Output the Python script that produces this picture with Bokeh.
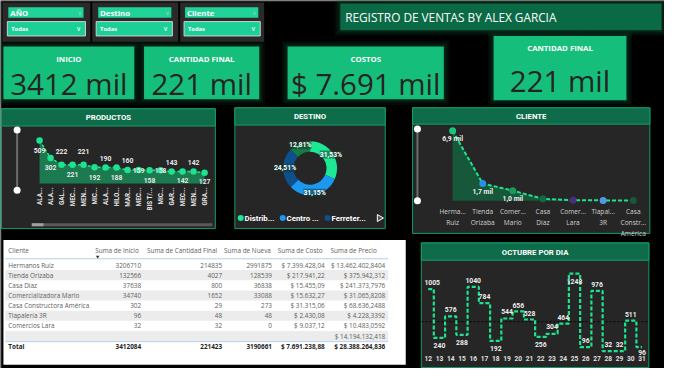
import numpy as np
from math import pi
from bokeh.plotting import figure
from bokeh.models import Range1d
from bokeh.core.properties import value
from bokeh.embed import file_html
from bokeh.resources import INLINE

# ---------------- data ----------------
filter_names = ["AÑO", "Destino", "Cliente"]
filter_choice = "Todas"
report_title = "REGISTRO DE VENTAS BY ALEX GARCIA"
kpi_labels = ["INICIO", "CANTIDAD FINAL", "COSTOS", "CANTIDAD FINAL"]
kpi_values = ["3412 mil", "221 mil", "$ 7.691 mil", "221 mil"]

prod_labels = ["ALA...", "ALA...", "GAL...", "MEC...", "MEN...", "MIC...", "ALA...", "HILO...",
               "MAR...", "MEC...", "BIS T/...", "MIC...", "GAR...", "MEC...", "MEN...", "GRA..."]
prod_values = [509, 302, 222, 221, 221, 192, 190, 188, 160, 159, 158, 158, 143, 142, 142, 127]

dest_labels = ["Distrib...", "Centro ...", "Ferreter...", "Otros"]
dest_pct = [31.53, 31.15, 24.51, 12.81]

cli_labels = ["Herma...\nRuiz", "Tienda\nOrizaba", "Comer...\nMario", "Casa\nDíaz",
              "Comer...\nLara", "Tlapal...\n3R", "Casa\nConstr...\nAmérica"]
cli_values = [6.9, 1.7, 1.0, 0.19, 0.05, 0.04, 0.02]          # miles
cli_value_text = ["6,9 mil", "1,7 mil", "1,0 mil", "", "", "", ""]

oct_days = list(range(12, 32))
oct_values = [1005, 240, 576, 288, 1040, 784, 192, 544, 656, 528,
              256, 304, 464, 1248, 96, 976, 32, 32, 511, 96]

tbl_header = ["Cliente", "Suma de Inicio", "Suma de Cantidad Final", "Suma de Nueva",
              "Suma de Costo", "Suma de Precio"]
tbl_cliente = ["Hermanos Ruiz", "Tienda Orizaba", "Casa Díaz", "Comercializadora Mario",
               "Casa Constructora América", "Tlapalería 3R", "Comercios Lara", ""]
tbl_inicio = [3206710, 132566, 37638, 34740, 302, 96, 32, None]
tbl_final = [214835, 4027, 800, 1652, 29, 48, 32, None]
tbl_nueva = [2991875, 128539, 36838, 33088, 273, 48, 0, None]
tbl_costo = [7399428.04, 217941.22, 15455.09, 15632.27, 31315.06, 2430.08, 9037.12, None]
tbl_precio = [13462402.8404, 375942.312, 241373.7976, 31065.8208, 68636.2488, 4228.3392,
              10483.0592, 14194132.418]
tbl_total = ["Total", 3412084, 221423, 3190661, 7691238.88, 28388264.836]

# ---------------- styles ----------------
BG = "#000000"
PANEL = "#262626"
HEAD = "#0e6c4b"
EDGE = "#159c66"
MINT = "#1fd399"
CARD = "#16be7b"
LINE = "#1de38e"
F = "Open Sans"
FB = "Roboto"

p = figure(width=664, height=368, x_range=Range1d(0, 680), y_range=Range1d(384, 0),
           output_backend="svg", toolbar_location=None, min_border=0,
           x_axis_location=None, y_axis_location=None)
p.grid.visible = False
p.outline_line_color = None
p.background_fill_color = BG
p.border_fill_color = BG


def rect(l, r, t, b, fill, line=None, lw=1, alpha=1.0, lalpha=1.0):
    p.quad(left=[l], right=[r], top=[t], bottom=[b], fill_color=fill, fill_alpha=alpha,
           line_color=line, line_width=lw, line_alpha=lalpha)


def txt(x, y, s, size, color="white", bold=False, align="left", baseline="middle",
        font=F, angle=0.0, g=None):
    g = g or p
    g.text(x=[x], y=[y], text=[s], text_font=value(font), text_font_size=f"{size}px",
           text_font_style="bold" if bold else "normal", text_color=color,
           text_align=align, text_baseline=baseline, angle=angle)


def glow(l, r, t, b):
    for d, a in ((6, 0.12), (4, 0.16), (2, 0.22)):
        rect(l - d, r + d, t - d, b + d, "#0e5233", alpha=a)


# dotted outer edges
p.line(x=[0.5, 0.5], y=[0, 384], line_color="#8a8a8a", line_dash="1 1", line_width=1)
p.line(x=[0, 680], y=[0.5, 0.5], line_color="#8a8a8a", line_dash="1 1", line_width=1)

# ---------------- filters ----------------
fpanel = [(2, 92), (94, 182), (184, 270)]
fhead = [(8, 85), (100, 175), (189, 264)]
fdrop = [(7, 87), (98, 176), (188, 266)]
for name, (a, b), (ha, hb), (da, db) in zip(filter_names, fpanel, fhead, fdrop):
    rect(a, b, 2, 43, "#2a2a2a")
    rect(ha, hb, 7, 18, MINT)
    txt(ha + 2, 12.8, name, 7.8, bold=True)
    txt(hb - 4, 12, "∨", 6, color="#8fdcc0", align="center", font="DejaVu Sans")
    rect(da, db, 22, 37, "#1ccf96", line="#d0d0d0", lw=1)
    txt(da + 4, 29.8, filter_choice, 5.8, bold=True)
    txt(db - 7, 29.3, "∨", 7, color="white", align="center", font="DejaVu Sans")

# ---------------- title ----------------
glow(348, 677, 3, 31)
rect(348, 677, 3, 31, "#0b6a46")
txt(353, 17.5, report_title, 11.8, color="white")

# ---------------- KPI cards ----------------
cards = [(3, 137, 48, 103), (147, 265, 48, 103), (294, 454, 48, 103), (505, 641, 37, 104)]
val_y = [87, 87, 87, 83]
for (l, r, t, b), lab, val, vy in zip(cards, kpi_labels, kpi_values, val_y):
    glow(l, r, t, b)
    rect(l, r, t, b, CARD)
    txt((l + r) / 2, t + 13, lab, 7.8, bold=True, align="center")
    txt((l + r) / 2, vy, val, 29.5, color="#252423", align="center")


# ---------------- panels ----------------
def panel(l, r, t, b, hb, title):
    rect(l, r, t, b, PANEL, line=EDGE, lw=1)
    rect(l, r, t, hb, HEAD, line=EDGE, lw=1)
    txt((l + r) / 2, (t + hb) / 2 + 0.5, title, 7.8, bold=True, align="center", font=FB)


def vslider(x, t, b):
    p.line(x=[x, x], y=[t, b], line_color="#6d6d6d", line_width=2)
    p.scatter(x=[x, x], y=[t, b], size=7, fill_color="white", line_color=None)


# PRODUCTOS
panel(1, 220, 113, 238, 131, "PRODUCTOS")
vslider(17, 135, 198)
rect(32, 217, 232.5, 235.5, "#5a5a5a")
rect(32, 44, 232.5, 235.5, "#a0a0a0")

n = len(prod_values)
pidx = list(range(n))
sp = p.subplot(x_source=Range1d(0, n - 1), y_source=Range1d(0, max(prod_values)),
               x_target=Range1d(40, 209), y_target=Range1d(191, 146))
sp.varea(x=pidx, y1=[0] * n, y2=prod_values, fill_color="#1c7a50")
sp.line(pidx, prod_values, line_color=LINE, line_width=1.5, line_dash="3 2")
sp.scatter(pidx, prod_values, size=6.5, fill_color=LINE, line_color=None)
prod_label_dy = [10, 10, -13, 10, -13, 10, -9, 10, -9, 0, 10, 0, -9, 9, -9, 9]
sp.text(x=pidx, y=prod_values, text=[str(v) for v in prod_values], y_offset=prod_label_dy,
        text_font=value(FB), text_font_size="6.8px", text_font_style="bold",
        text_color="#e8e8e8", text_align="center", text_baseline="middle")
sp.text(x=pidx, y=[0] * n, text=prod_labels, y_offset=4, angle=pi / 2,
        text_font=value(FB), text_font_size="6.3px", text_font_style="bold",
        text_color="#e8e8e8", text_align="right", text_baseline="middle")

# DESTINO
panel(240, 394, 112, 238, 130, "DESTINO")
cx, cy = 317, 175
dcol = ["#1de894", "#1b98f0", "#0f4f8c", "#147c46"]
frac = np.array(dest_pct) / sum(dest_pct)
cum = np.concatenate([[0.0], np.cumsum(frac)])
start = pi / 2 - 2 * pi * cum[1:]
end = pi / 2 - 2 * pi * cum[:-1]
p.annular_wedge(x=cx, y=cy, inner_radius=16.5, outer_radius=27, inner_radius_units="screen",
                outer_radius_units="screen", start_angle=start, end_angle=end,
                fill_color=dcol, line_color=None)
mid = (start + end) / 2
rl = 25
p.text(x=[cx] * 4, y=[cy] * 4, text=[f"{v:.2f}%".replace(".", ",") for v in dest_pct],
       x_offset=list(rl * np.cos(mid)), y_offset=list(-rl * np.sin(mid)),
       text_font=value(FB), text_font_size="6.8px", text_font_style="bold",
       text_color="white", text_align="center", text_baseline="middle",
       background_fill_color="#123a2c", background_fill_alpha=0.55)
leg_x = [246, 289, 335]
for lx, lab, c in zip(leg_x, dest_labels[:3], dcol[:3]):
    p.scatter(x=[lx], y=[227], size=6, fill_color=c, line_color=None)
    txt(lx + 4, 227.5, lab, 7.8, bold=True, font=FB)
p.scatter(x=[388], y=[227], marker="triangle", angle=-pi / 2, size=7,
          fill_color="#555555", line_color="white", line_width=1)

# CLIENTE
panel(422, 665, 112, 243, 129, "CLIENTE")
vslider(427, 134, 209)
m = len(cli_values)
cidx = list(range(m))
sc = p.subplot(x_source=Range1d(0, m - 1), y_source=Range1d(0, max(cli_values)),
               x_target=Range1d(463, 648), y_target=Range1d(209, 136))
sc.varea(x=cidx, y1=[0] * m, y2=cli_values, fill_color="#17573a")
sc.line(cidx, cli_values, line_color=LINE, line_width=2, line_dash="4 2")
cli_colors = ["#1bc47d", "#2e8ee6", "#1a9a55", "#0f6a42", "#4a2c7d", "#4f9ae6", "#17573a"]
sc.scatter(cidx, cli_values, size=7, fill_color=cli_colors, line_color=None)
sc.text(x=cidx, y=cli_values, text=cli_value_text, y_offset=8,
        text_font=value(FB), text_font_size="6.8px", text_font_style="bold",
        text_color="#f0f0f0", text_align="center", text_baseline="middle")
sc.text(x=cidx, y=[0] * m, text=cli_labels, y_offset=6,
        text_font=value(F), text_font_size="6.6px", text_color="#d0d0d0",
        text_align="center", text_baseline="top", text_line_height=1.25)

# OCTUBRE POR DIA
panel(431, 664, 253, 383, 271, "OCTUBRE POR DIA")
so = p.subplot(x_source=Range1d(oct_days[0], oct_days[-1]), y_source=Range1d(0, max(oct_values)),
               x_target=Range1d(438, 657), y_target=Range1d(368, 285))
avg = float(np.mean(oct_values))
so.line(x=[oct_days[0] - 0.6, oct_days[-1] + 0.6], y=[avg, avg], line_color="#050505",
        line_width=1, line_dash="2 2")
so.step(oct_days, oct_values, mode="center", line_color=LINE, line_width=2.2, line_dash="4 2")
oct_label_dy = [-7, 8, -7, 8, -6, -7, 8, -7, -6, -6, 8, -7, -6, 8, -7, -6, -7, -7, -6, 5]
oct_label_dx = [4] + [0] * (len(oct_days) - 1)
so.text(x=oct_days, y=oct_values, text=[str(v) for v in oct_values],
        x_offset=oct_label_dx, y_offset=oct_label_dy,
        text_font=value(FB), text_font_size="6.8px", text_font_style="bold",
        text_color="#eeeeee", text_align="center", text_baseline="middle")
so.text(x=oct_days, y=[0] * len(oct_days), text=[str(d) for d in oct_days], y_offset=5,
        text_font=value(FB), text_font_size="6.6px", text_font_style="bold",
        text_color="#e0e0e0", text_align="center", text_baseline="middle")


# ---------------- table ----------------
def es_num(v, dec, strip=False):
    s = f"{v:,.{dec}f}".replace(",", "#").replace(".", ",").replace("#", ".")
    if strip and "," in s:
        s = s.rstrip("0").rstrip(",")
    return "$ " + s


rect(3, 415, 250, 380, "white")
hx = [8, 97, 150, 229, 284, 338]
rx = [144, 227, 278, 332, 394]
for x, h in zip(hx, tbl_header):
    txt(x, 261, h, 6.4, color="#605e5c")
p.scatter(x=[99.5], y=[267.5], marker="inverted_triangle", size=3.5, fill_color="#333333",
          line_color=None)
row_h = 10.6
y0 = 276
for i in range(len(tbl_cliente)):
    if i % 2 == 1:
        rect(5, 397, y0 + i * row_h - row_h / 2, y0 + i * row_h + row_h / 2, "#ececec")
p.line(x=[5, 397], y=[269.5, 269.5], line_color="#b5d0ea", line_width=1)
p.line(x=[5, 397], y=[356, 356], line_color="#b5d0ea", line_width=1)

cols = [
    [("" if v is None else str(v)) for v in tbl_inicio],
    [("" if v is None else str(v)) for v in tbl_final],
    [("" if v is None else str(v)) for v in tbl_nueva],
    [("" if v is None else es_num(v, 2)) for v in tbl_costo],
    [("" if v is None else es_num(v, 4, True)) for v in tbl_precio],
]
ys = [y0 + i * row_h for i in range(len(tbl_cliente))]
p.text(x=[8] * len(ys), y=ys, text=tbl_cliente, text_font=value(F), text_font_size="6.4px",
       text_color="#605e5c", text_align="left", text_baseline="middle")
for x, col in zip(rx, cols):
    p.text(x=[x] * len(ys), y=ys, text=col, text_font=value(F), text_font_size="6.4px",
           text_color="#605e5c", text_align="right", text_baseline="middle")
tot = [tbl_total[0], str(tbl_total[1]), str(tbl_total[2]), str(tbl_total[3]),
       es_num(tbl_total[4], 2), es_num(tbl_total[5], 4, True)]
txt(8, 361, tot[0], 6.4, color="#252423", bold=True)
for x, s in zip(rx, tot[1:]):
    txt(x, 361, s, 6.4, color="#252423", bold=True, align="right")

open("out.html", "w").write(file_html(p, INLINE))
